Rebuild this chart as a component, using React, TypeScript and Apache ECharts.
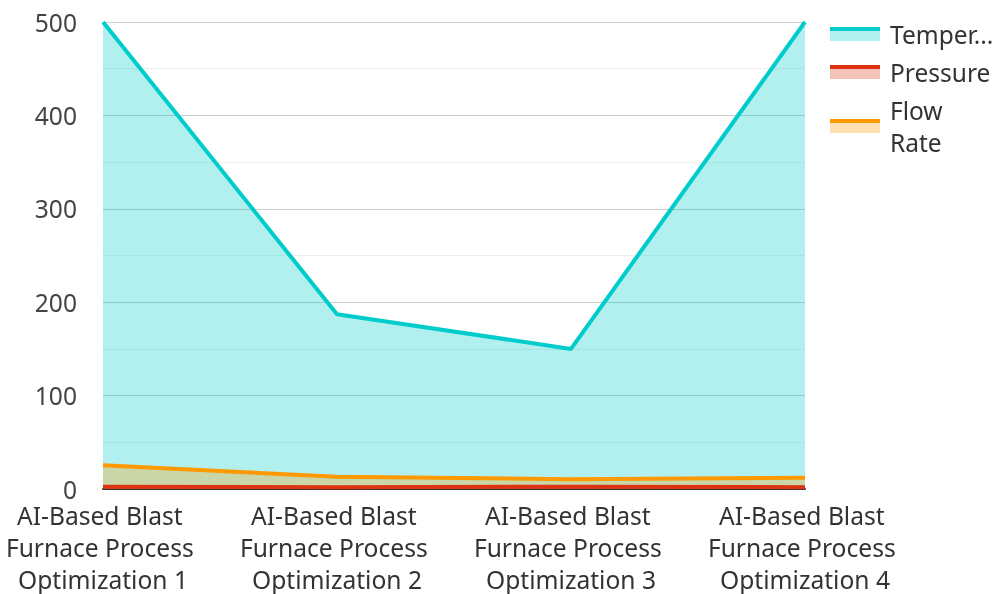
import React, { useEffect, useRef } from "react";
import * as echarts from "echarts";

const categories = [
  "AI-Based Blast Furnace Process Optimization 1",
  "AI-Based Blast Furnace Process Optimization 2",
  "AI-Based Blast Furnace Process Optimization 3",
  "AI-Based Blast Furnace Process Optimization 4",
];
const seriesNames = ["Temperature", "Pressure", "Flow Rate"];
const temperature = [500, 187, 150, 500];
const pressure = [2.5, 2, 2.5, 2];
const flowRate = [25.5, 13, 10.5, 12];
const yTicks = [0, 100, 200, 300, 400, 500];

const lineColors = ["#00cccc", "#dd3311", "#ff9900"];
const areaColors = ["#b3f0f0", "#f5c2b8", "#ffe0b3"];
const legendTextWidths = [112, 112, 100];

function iconGradient(i: number) {
  return new echarts.graphic.LinearGradient(0, 0, 0, 1, [
    { offset: 0, color: lineColors[i] },
    { offset: 0.29, color: lineColors[i] },
    { offset: 0.29, color: areaColors[i] },
    { offset: 1, color: areaColors[i] },
  ]);
}

export default function App() {
  const ref = useRef<HTMLDivElement>(null);
  useEffect(() => {
    if (!ref.current) return;
    const chart = echarts.init(ref.current, undefined, { renderer: "svg" });
    const font = "Noto Sans";
    const seriesData = [temperature, pressure, flowRate];
    chart.setOption({
      animation: false,
      textStyle: { fontFamily: font },
      grid: {
        left: 103,
        right: 190,
        top: 22,
        bottom: 105,
        containLabel: false,
        outerBoundsMode: "none",
      },
      legend: {
        orient: "vertical",
        left: 830,
        top: 18,
        padding: 0,
        itemWidth: 50,
        itemHeight: 14,
        itemGap: 6,
        icon: "rect",
        textStyle: {
          fontFamily: font,
          fontSize: 24.5,
          color: "#333",
          lineHeight: 32,
          padding: [0, 0, 0, 5],
        },
        data: seriesNames.map((name, i) => ({
          name,
          itemStyle: { color: iconGradient(i) },
          lineStyle: { width: 0 },
          textStyle: {
            overflow: i === 2 ? "break" : "truncate",
            width: legendTextWidths[i],
            ellipsis: "...",
          },
        })),
      },
      xAxis: {
        type: "category",
        data: categories,
        boundaryGap: false,
        axisLine: { lineStyle: { color: "#333", width: 2 } },
        axisTick: { show: false },
        axisLabel: {
          fontFamily: font,
          fontSize: 24.6,
          color: "#333",
          lineHeight: 32,
          width: 215,
          overflow: "break",
          interval: 0,
          margin: 10,
        },
      },
      yAxis: {
        type: "value",
        min: yTicks[0],
        max: yTicks[yTicks.length - 1],
        interval: 100,
        axisLine: { show: false },
        axisTick: { show: false },
        axisLabel: { fontFamily: font, fontSize: 24.6, color: "#444", margin: 26 },
        splitLine: { lineStyle: { color: "#ccc" } },
        minorTick: { show: false, splitNumber: 2 },
        minorSplitLine: { show: true, lineStyle: { color: "#eee" } },
      },
      series: seriesNames.map((name, i) => ({
        name,
        type: "line",
        data: seriesData[i],
        symbol: "none",
        lineStyle: { color: lineColors[i], width: 4 },
        itemStyle: { color: lineColors[i] },
        areaStyle: { color: lineColors[i], opacity: 0.3 },
      })),
    });
    return () => chart.dispose();
  }, []);
  return (
    <div
      ref={ref}
      style={{ width: 995, height: 594, position: "fixed", left: 0, top: 0 }}
    />
  );
}
